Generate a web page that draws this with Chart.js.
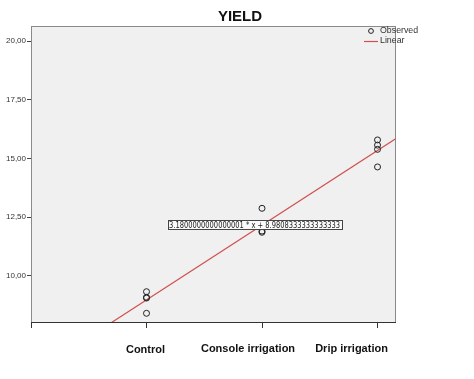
<!DOCTYPE html>
<html><head><meta charset="utf-8">
<script src="https://cdn.jsdelivr.net/npm/chart.js@4.4.1/dist/chart.umd.min.js"></script>
<style>html,body{margin:0;padding:0;background:#fff}#wrap{width:474px;height:379px}</style>
</head><body><div id="wrap"><canvas id="c" width="474" height="379"></canvas></div>
<script>
const categories = ['Control', 'Console irrigation', 'Drip irrigation'];
const controlValues = [9.33, 9.09, 9.06, 8.41];
const consoleValues = [12.88, 12.12, 11.91, 11.86];
const dripValues = [15.79, 15.57, 15.39, 14.64];
const fitLineX = [-1, 2.16];
const fitLineY = [5.80, 15.85];
const yTickValues = [10, 12.5, 15, 17.5, 20];
const xTickValues = [-1, 0, 1, 2];
const fitLabel = '3.1800000000000001 * x + 8.9808333333333333';
const fitLabelAt = [0.935, 12.17];

const groups = [controlValues, consoleValues, dripValues];
const observed = [];
groups.forEach((vals, i) => vals.forEach(v => observed.push({x: i, y: v})));
const linePts = fitLineX.map((x, i) => ({x: x, y: fitLineY[i]}));

const FONT = '"Liberation Sans", Arial, sans-serif';

const deco = {
  id: 'deco',
  beforeDatasetsDraw(chart) {
    const {ctx, chartArea: a} = chart;
    ctx.save();
    ctx.fillStyle = '#f0f0f0';
    ctx.fillRect(a.left, a.top, a.right - a.left, a.bottom - a.top);
    ctx.restore();
  },
  afterDraw(chart) {
    const {ctx, chartArea: a, scales} = chart;
    ctx.save();
    ctx.strokeStyle = '#8a8a8a';
    ctx.lineWidth = 1;
    ctx.strokeRect(a.left + 0.5, a.top + 0.5, a.right - a.left - 1, a.bottom - a.top);
    ctx.strokeStyle = '#333';
    ctx.beginPath();
    ctx.moveTo(a.left, a.bottom + 0.5); ctx.lineTo(a.right, a.bottom + 0.5);
    ctx.stroke();
    ctx.fillStyle = '#111';
    ctx.font = 'bold 15px ' + FONT;
    ctx.textAlign = 'center';
    ctx.textBaseline = 'middle';
    ctx.fillText('YIELD', 240, 17);
    const offs = [-1, -14, -26];
    ctx.font = 'bold 11px ' + FONT;
    categories.forEach((c, i) => {
      const px = scales.x.getPixelForValue(i) + offs[i];
      ctx.fillText(c, px, 350 - (i ? 1 : 0));
    });
    const bx = scales.x.getPixelForValue(fitLabelAt[0]);
    const by = scales.y.getPixelForValue(fitLabelAt[1]);
    const bw = 174, bh = 9;
    ctx.fillStyle = '#fafafa';
    ctx.fillRect(bx - bw / 2, by - bh / 2, bw, bh);
    ctx.strokeStyle = '#444';
    ctx.strokeRect(Math.round(bx - bw / 2) + 0.5, Math.round(by - bh / 2) + 0.5, bw, bh);
    ctx.font = '9px "DejaVu Sans Condensed", ' + FONT;
    const tw = ctx.measureText(fitLabel).width;
    const sx = (bw - 3) / tw;
    ctx.save();
    ctx.translate(bx, by + 0.5);
    ctx.scale(sx, 1);
    ctx.fillStyle = '#222';
    ctx.textAlign = 'center';
    ctx.fillText(fitLabel, 0, 0);
    ctx.restore();
    const ds = chart.data.datasets;
    ctx.font = '8.8px ' + FONT;
    ctx.textAlign = 'left';
    ctx.fillStyle = '#333';
    ctx.strokeStyle = '#222';
    ctx.beginPath(); ctx.arc(371, 31, 2.4, 0, Math.PI * 2); ctx.stroke();
    ctx.fillText(ds[0].label, 380, 31);
    ctx.strokeStyle = '#d05050';
    ctx.lineWidth = 1.2;
    ctx.beginPath(); ctx.moveTo(364, 41.5); ctx.lineTo(378, 41.5); ctx.stroke();
    ctx.fillText(ds[1].label, 380, 41);
    ctx.restore();
  }
};

new Chart(document.getElementById('c'), {
  type: 'scatter',
  data: {
    datasets: [
      {label: 'Observed', data: observed, pointRadius: 3, pointHoverRadius: 3,
       pointBackgroundColor: 'rgba(0,0,0,0)', pointBorderColor: '#222', pointBorderWidth: 1, showLine: false},
      {label: 'Linear', data: linePts, showLine: true, borderColor: '#d05050', borderWidth: 1.2,
       pointRadius: 0, fill: false}
    ]
  },
  options: {
    responsive: false,
    animation: false,
    events: [],
    layout: {padding: {top: 26, right: 78, left: 0, bottom: 0}},
    plugins: {legend: {display: false}, title: {display: false}, tooltip: {enabled: false}},
    scales: {
      x: {
        type: 'linear', min: -1, max: 2.16,
        afterBuildTicks: s => { s.ticks = xTickValues.map(v => ({value: v})); },
        afterFit: s => { s.height = 57; },
        grid: {drawOnChartArea: false, tickLength: 6, color: '#333'},
        border: {display: false},
        ticks: {display: true, callback: () => ''}
      },
      y: {
        type: 'linear', min: 8.04, max: 20.64,
        afterBuildTicks: s => { s.ticks = yTickValues.map(v => ({value: v})); },
        afterFit: s => { s.width = 31; },
        grid: {drawOnChartArea: false, tickLength: 4, color: '#444'},
        border: {display: false},
        ticks: {padding: 1, color: '#333', font: {size: 8, family: FONT},
                callback: v => v.toFixed(2).replace('.', ',')}
      }
    }
  },
  plugins: [deco]
});
</script></body></html>
